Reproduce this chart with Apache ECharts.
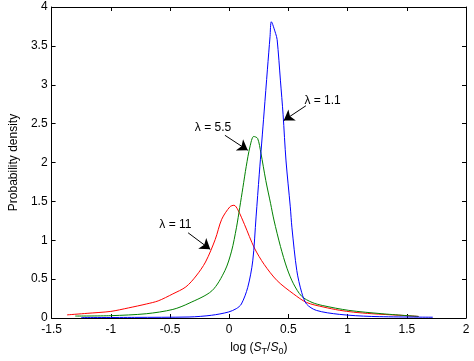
<!DOCTYPE html>
<html><head><meta charset="utf-8">
<script src="https://cdn.jsdelivr.net/npm/echarts@6/dist/echarts.min.js"></script>
<style>html,body{margin:0;padding:0;background:#fff}#c{width:474px;height:361px}</style>
</head><body><div id="c"></div>
<script>
// lambda = 11 (red)
const redX = [-1.37,-1.2,-1.0,-0.85,-0.7,-0.6,-0.476,-0.366,-0.28,-0.2,-0.118,-0.063,0.006,0.041,0.074,0.13,0.213,0.295,0.405,0.543,0.653,0.8,0.93,1.05,1.205,1.44,1.6];
const redY = [0.04,0.06,0.085,0.13,0.18,0.22,0.31,0.40,0.54,0.72,1.01,1.27,1.43,1.45,1.39,1.20,0.90,0.69,0.48,0.31,0.20,0.14,0.10,0.075,0.055,0.035,0.02];
// lambda = 5.5 (green)
const greenX = [-1.3,-1.0,-0.7,-0.476,-0.339,-0.146,-0.036,0.02,0.061,0.089,0.116,0.144,0.175,0.207,0.24,0.268,0.309,0.35,0.378,0.433,0.488,0.543,0.612,0.7,0.79,1.01,1.29,1.6];
const greenY = [0.025,0.03,0.055,0.11,0.19,0.35,0.61,0.86,1.16,1.42,1.68,1.95,2.2,2.335,2.31,2.12,1.77,1.47,1.26,0.92,0.64,0.44,0.28,0.2,0.16,0.098,0.055,0.02];
// lambda = 1.1 (blue)
const blueX = [-1.25,-0.8,-0.339,-0.15,-0.008,0.06,0.103,0.157,0.199,0.227,0.254,0.295,0.323,0.345,0.356,0.392,0.405,0.433,0.455,0.48,0.516,0.53,0.571,0.612,0.653,0.736,0.93,1.2,1.72];
const blueY = [0.005,0.008,0.013,0.035,0.076,0.12,0.18,0.395,0.735,1.3,1.85,2.65,3.2,3.62,3.81,3.66,3.58,3.05,2.62,2.02,1.43,1.16,0.61,0.33,0.18,0.098,0.047,0.02,0.01];

// annotations: label text, label anchor [x,y], arrow start, arrow tip
const annoText = ['\u03bb = 1.1', '\u03bb = 5.5', '\u03bb = 11'];
const annoLabel = [[0.635,2.79],[-0.29,2.446],[-0.59,1.20]];
const annoFrom = [[0.648,2.73],[-0.036,2.35],[-0.347,1.096]];
const annoTo = [[0.461,2.54],[0.157,2.157],[-0.16,0.883]];

const xTicks = {min:-1.5, max:2, interval:0.5};
const yTicks = {min:0, max:4, interval:0.5};

const FONT = 'Liberation Sans, Arial, sans-serif';
const zip = (xs, ys) => xs.map((x,i)=>[x, ys[i]]);

function anno(i){
  return {
    markLine: {
      silent: true, animation: false,
      symbol: ['none','arrow'], symbolSize: 10,
      lineStyle: {color:'#000', width:1, type:'solid'},
      itemStyle: {color:'#000'},
      label: {show:false},
      emphasis: {disabled:true},
      data: [[{coord: annoFrom[i]}, {coord: annoTo[i]}]]
    },
    markPoint: {
      silent: true, animation: false,
      symbol: 'circle', symbolSize: 0,
      label: {show:true, position:'right', distance:0, color:'#000', fontSize:12, fontFamily:FONT, formatter: annoText[i]},
      data: [{coord: annoLabel[i]}]
    }
  };
}

const axisCommon = {
  axisLine: {show:true, onZero:false, lineStyle:{color:'#000', width:1}},
  axisTick: {show:true, inside:true, length:4, lineStyle:{color:'#000'}},
  splitLine: {show:false}
};

const lineCommon = {type:'line', showSymbol:false, smooth:0.3};

const chart = echarts.init(document.getElementById('c'), null, {renderer:'canvas'});
chart.setOption({
  animation: false,
  backgroundColor: '#fff',
  grid: {left:43, right:8, top:7, bottom:40},
  xAxis: [
    Object.assign({type:'value', position:'bottom', min:xTicks.min, max:xTicks.max, interval:xTicks.interval,
      axisLabel:{color:'#000', fontSize:12, fontFamily:FONT, margin:6, formatter: v => String(v)},
      name: 'log ({i|S}{sub|T}/{i|S}{sub|0})', nameLocation:'middle', nameGap:22,
      nameTextStyle: {color:'#000', fontSize:12, fontFamily:FONT,
        rich: {i:{fontStyle:'italic', fontSize:12, fontFamily:FONT, color:'#000'},
               sub:{fontSize:9, fontFamily:FONT, color:'#000', padding:[7,0,0,0]}}}
    }, axisCommon),
    Object.assign({type:'value', position:'top', min:xTicks.min, max:xTicks.max, interval:xTicks.interval,
      axisLabel:{show:false}}, axisCommon)
  ],
  yAxis: [
    Object.assign({type:'value', position:'left', min:yTicks.min, max:yTicks.max, interval:yTicks.interval,
      axisLabel:{color:'#000', fontSize:12, fontFamily:FONT, margin:4, formatter: v => String(v)},
      name:'Probability density', nameLocation:'middle', nameGap:31,
      nameTextStyle:{color:'#000', fontSize:12, fontFamily:FONT}
    }, axisCommon),
    Object.assign({type:'value', position:'right', min:yTicks.min, max:yTicks.max, interval:yTicks.interval,
      axisLabel:{show:false}}, axisCommon)
  ],
  series: [
    Object.assign({}, lineCommon, {name:'lambda=11', data: zip(redX, redY),
      lineStyle:{color:'#ff0000', width:1}, itemStyle:{color:'#ff0000'}}, anno(2)),
    Object.assign({}, lineCommon, {name:'lambda=5.5', data: zip(greenX, greenY),
      lineStyle:{color:'#008000', width:1}, itemStyle:{color:'#008000'}}, anno(1)),
    Object.assign({}, lineCommon, {name:'lambda=1.1', data: zip(blueX, blueY),
      lineStyle:{color:'#0000ff', width:1}, itemStyle:{color:'#0000ff'}}, anno(0))
  ]
});
</script></body></html>
